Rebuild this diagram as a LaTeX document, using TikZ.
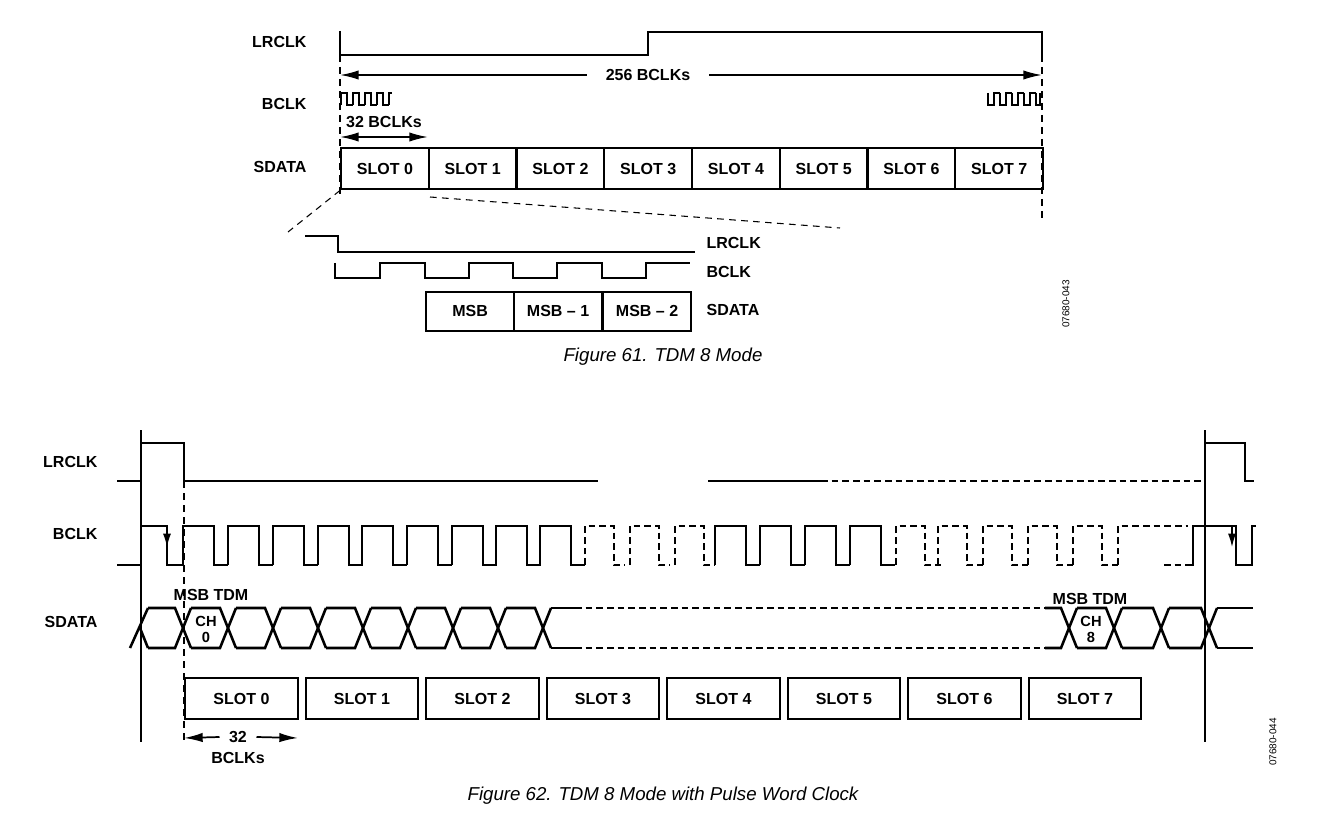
\documentclass[tikz,border=0pt]{standalone}
\usepackage{fontspec}
\setmainfont{Liberation Sans}
\usetikzlibrary{arrows.meta}
\begin{document}
\begin{tikzpicture}[x=0.75pt, y=-0.75pt,
  sig/.style = {line width=1.9pt, line join=miter},
  dsig/.style = {sig, dash pattern=on 5pt off 3pt},
  guide/.style = {line width=0.8pt},
  dguide/.style = {guide, dash pattern=on 5pt off 4pt},
  slot/.style = {draw, line width=1.6pt, minimum height=31pt, font=\bfseries},
  lbl/.style = {font=\bfseries},
  span/.style = {line width=1.3pt, -{Latex[length=14pt,width=7pt]}},
  figcap/.style = {font=\itshape\fontsize{14}{16}\selectfont}]
\useasboundingbox (0,0) rectangle (1321,834);
\fontsize{12}{14}\selectfont
% ---- Figure 61
\node[lbl, anchor=east] (lr1) at (312,42) {LRCLK};
\node[lbl, anchor=east] (bc1) at (312,104) {BCLK};
\node[lbl, anchor=east] (sd1) at (312,167) {SDATA};
\draw[sig] (340,31) -- (340,55) -- (648,55) -- (648,32) -- (1042,32) -- (1042,55);
\draw[dguide] (340,55) -- (340,195);
\draw[dguide] (1042,55) -- (1042,218);
\coordinate (aL) at (340,75);
\coordinate (aR) at (1042,75);
\node[lbl, fill=white, inner xsep=14pt] (n256) at (648,75) {256 BCLKs};
\draw[span] (n256) -- (aL);
\draw[span] (n256) -- (aR);
\foreach \r in {341,353,365,377}
  \draw[sig, line width=1.5pt] (\r,105) -- (\r,93) -- (\r+6,93) -- (\r+6,105) -- (\r+12,105);
\draw[sig, line width=1.5pt] (389,105) -- (389,93) -- (392,93);
\foreach \r in {993,1005,1017,1029}
  \draw[sig, line width=1.5pt] (\r-5,93) -- (\r-5,105) -- (\r+1,105) -- (\r+1,93) -- (\r+7,93);
\draw[sig, line width=1.5pt] (1036,93) -- (1036,105) -- (1040,105) -- (1040,93);
\node[lbl] (t32) at (384,122) {32 BCLKs};
\coordinate (b32L) at (340,137);
\coordinate (b32R) at (428,137);
\draw[span, {Latex[length=14pt,width=7pt]}-{Latex[length=14pt,width=7pt]}] (b32L) -- (b32R);
\foreach \i in {0,...,7}
  \node[slot, minimum width=65.8pt, anchor=north west] (s\i) at (340+87.75*\i,147) {SLOT \i};
\draw[dguide] (s0.south west) -- (288,232);
\draw[dguide] (430,197) -- (840,228);
\draw[sig, line width=1.6pt] (305,236) -- (338,236) -- (338,252) -- (695,252);
\draw[sig, line width=1.6pt] (335,263) -- (335,278) -- (380,278) -- (380,263) -- (425,263) -- (425,278)
  -- (469,278) -- (469,263) -- (513,263) -- (513,278) -- (557,278) -- (557,263) -- (602,263)
  -- (602,278) -- (646,278) -- (646,263) -- (690,263);
\node[slot, minimum width=66pt, minimum height=29pt, anchor=north west] (m0) at (425,291) {MSB};
\node[slot, minimum width=66pt, minimum height=29pt, anchor=north west] (m1) at (513,291) {MSB -- 1};
\node[slot, minimum width=66pt, minimum height=29pt, anchor=north west] (m2) at (602,291) {MSB -- 2};
\node[lbl, anchor=west] (lr2) at (701,243) {LRCLK};
\node[lbl, anchor=west] (bc2) at (701,272) {BCLK};
\node[lbl, anchor=west] (sd2) at (701,310) {SDATA};
\node[figcap] (c61) at (663,357) {Figure 61. TDM 8 Mode};
\node[rotate=90, font=\fontsize{7.5}{9}\selectfont] (id43) at (1066,304) {07680-043};
% ---- Figure 62
\node[lbl, anchor=east] (lr3) at (103,462) {LRCLK};
\node[lbl, anchor=east] (bc3) at (103,534) {BCLK};
\node[lbl, anchor=east] (sd3) at (103,622) {SDATA};
\draw[guide] (141,430) -- (141,742);
\draw[guide] (1205,430) -- (1205,742);
\draw[dguide] (184,481) -- (184,742);
\draw[sig] (117,481) -- (141,481) -- (141,443) -- (184,443) -- (184,481) -- (598,481);
\draw[sig] (708,481) -- (821,481);
\draw[dsig] (821,481) -- (1205,481);
\draw[sig] (1205,481) -- (1205,443) -- (1245,443) -- (1245,481) -- (1254,481);
% BCLK
\draw[sig] (117,565) -- (141,565) -- (141,526) -- (167,526) -- (167,565) -- (183,565);
\draw[-{Latex[length=10pt,width=6pt]}, line width=1pt] (167,526) -- (167,547);
\foreach \r in {183,228,273,318,362,407,452,496,540}
  \draw[sig] (\r,565) -- (\r,526) -- (\r+31,526) -- (\r+31,565) -- (\r+45,565);
\foreach \r in {585,630,675}
  \draw[dsig] (\r,565) -- (\r,526) -- (\r+29,526) -- (\r+29,565) -- (\r+40,565);
\foreach \r in {715,760,805,850}
  \draw[sig] (\r,565) -- (\r,526) -- (\r+31,526) -- (\r+31,565) -- (\r+45,565);
\foreach \r in {896,938,983,1028,1073}
  \draw[dsig] (\r,565) -- (\r,526) -- (\r+29,526) -- (\r+29,565) -- (\r+45,565);
\draw[dsig] (1118,565) -- (1118,526) -- (1188,526);
\draw[dsig] (1164,565) -- (1190,565);
\draw[sig] (1190,565) -- (1193,565) -- (1193,526) -- (1236,526) -- (1236,565) -- (1252,565) -- (1252,526) -- (1256,526);
\draw[-{Latex[length=10pt,width=6pt]}, line width=1pt] (1232,526) -- (1232,547);
% SDATA
\draw[sig] (130,648) -- (148,608);
\draw[sig] (140,628) -- (148,648);
\foreach \c [remember=\c as \p (initially 140)] in {183,228,273,318,363,408,453,498,543} {
  \draw[sig] (\p+8,608) -- (\c-8,608) -- (\c+8,648);
  \draw[sig] (\p+8,648) -- (\c-8,648) -- (\c+8,608);
}
\draw[sig] (551,608) -- (575,608);
\draw[sig] (551,648) -- (575,648);
\draw[dsig] (575,608) -- (1045,608);
\draw[dsig] (575,648) -- (1045,648);
\foreach \c [remember=\c as \p (initially 1037)] in {1069,1114,1161,1209} {
  \draw[sig] (\p+8,608) -- (\c-8,608) -- (\c+8,648);
  \draw[sig] (\p+8,648) -- (\c-8,648) -- (\c+8,608);
}
\draw[sig] (1217,608) -- (1253,608);
\draw[sig] (1217,648) -- (1253,648);
\node[lbl, align=center, font=\bfseries\fontsize{11}{12}\selectfont] (ch0) at (206,629) {CH\\0};
\node[lbl, align=center, font=\bfseries\fontsize{11}{12}\selectfont] (ch8) at (1091,629) {CH\\8};
\node[lbl] (msb0) at (211,595) {MSB TDM};
\node[lbl] (msb8) at (1090,599) {MSB TDM};
\foreach \i in {0,...,7}
  \node[slot, minimum width=84.5pt, anchor=north west] (u\i) at (184+120.5*\i,677) {SLOT \i};
\node[lbl] (n32) at (238,737) {32};
\node[lbl] (nbc) at (238,758) {BCLKs};
\coordinate (cL) at (184,738);
\coordinate (cR) at (298,738);
\draw[span] (n32.west) ++(-4,0) -- (cL);
\draw[span] (n32.east) ++(4,0) -- (cR);
\node[figcap] (c62) at (663,796) {Figure 62. TDM 8 Mode with Pulse Word Clock};
\node[rotate=90, font=\fontsize{7.5}{9}\selectfont] (id44) at (1273,742) {07680-044};
\end{tikzpicture}
\end{document}
